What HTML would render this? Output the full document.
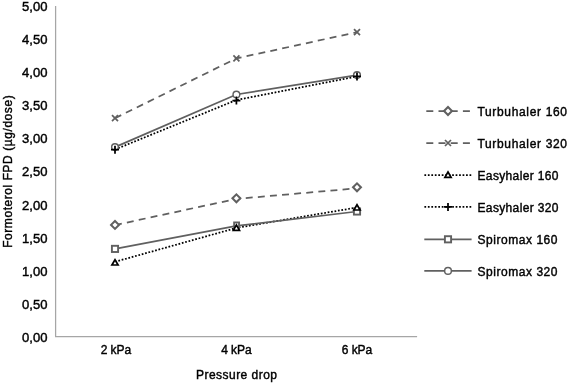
<!DOCTYPE html>
<html><head><meta charset="utf-8"><style>
html,body{margin:0;padding:0;background:#fff;overflow:hidden;}
svg{display:block;}
</style></head><body>
<svg width="569" height="383" viewBox="0 0 569 383">
<rect width="569" height="383" fill="#fff"/>
<path d="M55.6 6V336.6H417.1" fill="none" stroke="#a6a6a6" stroke-width="1.25"/>
<text x="47.5" y="341.75" text-anchor="end" font-family="'Liberation Sans', Arial, sans-serif" stroke="#000" stroke-width="0.4" font-size="12.4" fill="#000" textLength="25.4" lengthAdjust="spacingAndGlyphs">0,00</text>
<text x="47.5" y="308.69" text-anchor="end" font-family="'Liberation Sans', Arial, sans-serif" stroke="#000" stroke-width="0.4" font-size="12.4" fill="#000" textLength="25.4" lengthAdjust="spacingAndGlyphs">0,50</text>
<text x="47.5" y="275.63" text-anchor="end" font-family="'Liberation Sans', Arial, sans-serif" stroke="#000" stroke-width="0.4" font-size="12.4" fill="#000" textLength="25.4" lengthAdjust="spacingAndGlyphs">1,00</text>
<text x="47.5" y="242.57" text-anchor="end" font-family="'Liberation Sans', Arial, sans-serif" stroke="#000" stroke-width="0.4" font-size="12.4" fill="#000" textLength="25.4" lengthAdjust="spacingAndGlyphs">1,50</text>
<text x="47.5" y="209.51" text-anchor="end" font-family="'Liberation Sans', Arial, sans-serif" stroke="#000" stroke-width="0.4" font-size="12.4" fill="#000" textLength="25.4" lengthAdjust="spacingAndGlyphs">2,00</text>
<text x="47.5" y="176.45" text-anchor="end" font-family="'Liberation Sans', Arial, sans-serif" stroke="#000" stroke-width="0.4" font-size="12.4" fill="#000" textLength="25.4" lengthAdjust="spacingAndGlyphs">2,50</text>
<text x="47.5" y="143.39" text-anchor="end" font-family="'Liberation Sans', Arial, sans-serif" stroke="#000" stroke-width="0.4" font-size="12.4" fill="#000" textLength="25.4" lengthAdjust="spacingAndGlyphs">3,00</text>
<text x="47.5" y="110.33" text-anchor="end" font-family="'Liberation Sans', Arial, sans-serif" stroke="#000" stroke-width="0.4" font-size="12.4" fill="#000" textLength="25.4" lengthAdjust="spacingAndGlyphs">3,50</text>
<text x="47.5" y="77.27" text-anchor="end" font-family="'Liberation Sans', Arial, sans-serif" stroke="#000" stroke-width="0.4" font-size="12.4" fill="#000" textLength="25.4" lengthAdjust="spacingAndGlyphs">4,00</text>
<text x="47.5" y="44.21" text-anchor="end" font-family="'Liberation Sans', Arial, sans-serif" stroke="#000" stroke-width="0.4" font-size="12.4" fill="#000" textLength="25.4" lengthAdjust="spacingAndGlyphs">4,50</text>
<text x="47.5" y="11.15" text-anchor="end" font-family="'Liberation Sans', Arial, sans-serif" stroke="#000" stroke-width="0.4" font-size="12.4" fill="#000" textLength="25.4" lengthAdjust="spacingAndGlyphs">5,00</text>
<text x="115.90" y="354.3" text-anchor="middle" font-family="'Liberation Sans', Arial, sans-serif" stroke="#000" stroke-width="0.4" font-size="12" fill="#000" textLength="30.5" lengthAdjust="spacing">2 kPa</text>
<text x="236.40" y="354.3" text-anchor="middle" font-family="'Liberation Sans', Arial, sans-serif" stroke="#000" stroke-width="0.4" font-size="12" fill="#000" textLength="30.5" lengthAdjust="spacing">4 kPa</text>
<text x="357.00" y="354.3" text-anchor="middle" font-family="'Liberation Sans', Arial, sans-serif" stroke="#000" stroke-width="0.4" font-size="12" fill="#000" textLength="30.5" lengthAdjust="spacing">6 kPa</text>
<text x="236.5" y="378.5" text-anchor="middle" font-family="'Liberation Sans', Arial, sans-serif" stroke="#000" stroke-width="0.4" font-size="12" fill="#000" textLength="81" lengthAdjust="spacing">Pressure drop</text>
<text transform="translate(11.8 171.6) rotate(-90)" x="0" y="0" text-anchor="middle" font-family="'Liberation Sans', Arial, sans-serif" stroke="#000" stroke-width="0.4" font-size="12" fill="#000" textLength="152.5" lengthAdjust="spacing">Formoterol FPD (µg/dose)</text>
<polyline points="115.00,225.10 236.40,198.90 357.00,188.30" fill="none" stroke="#606060" stroke-width="1.75" stroke-dasharray="6.94 5.205"/>
<polyline points="115.00,118.20 236.40,58.40 357.00,32.20" fill="none" stroke="#606060" stroke-width="1.75" stroke-dasharray="6.94 5.205"/>
<polyline points="115.00,261.80 236.40,227.90 357.00,207.50" fill="none" stroke="#000" stroke-width="1.75" stroke-dasharray="1.735 1.735"/>
<polyline points="115.00,149.50 236.40,100.00 357.00,76.40" fill="none" stroke="#000" stroke-width="1.75" stroke-dasharray="1.735 1.735"/>
<polyline points="115.00,248.90 236.40,225.90 357.00,211.50" fill="none" stroke="#606060" stroke-width="1.75"/>
<polyline points="115.00,147.10 236.40,94.50 357.00,75.10" fill="none" stroke="#606060" stroke-width="1.75"/>
<path d="M111.05 224.90L115.00 220.95L118.95 224.90L115.00 228.85Z" fill="#fff" stroke="#606060" stroke-width="2.05"/>
<path d="M232.45 198.30L236.40 194.35L240.35 198.30L236.40 202.25Z" fill="#fff" stroke="#606060" stroke-width="2.05"/>
<path d="M353.05 187.30L357.00 183.35L360.95 187.30L357.00 191.25Z" fill="#fff" stroke="#606060" stroke-width="2.05"/>
<path d="M112.00 115.20L118.00 121.20M118.00 115.20L112.00 121.20" fill="none" stroke="#606060" stroke-width="1.75"/>
<path d="M233.40 55.40L239.40 61.40M239.40 55.40L233.40 61.40" fill="none" stroke="#606060" stroke-width="1.75"/>
<path d="M354.00 29.20L360.00 35.20M360.00 29.20L354.00 35.20" fill="none" stroke="#606060" stroke-width="1.75"/>
<rect x="111.90" y="245.80" width="6.20" height="6.20" fill="#fff" stroke="#606060" stroke-width="1.9"/>
<rect x="234.15" y="222.45" width="4.9" height="6.2" fill="#fff" stroke="#606060" stroke-width="1.9"/>
<rect x="353.90" y="208.40" width="6.20" height="6.20" fill="#fff" stroke="#606060" stroke-width="1.9"/>
<circle cx="115.00" cy="147.10" r="3.35" fill="#fff" stroke="#606060" stroke-width="1.45"/>
<circle cx="236.40" cy="94.50" r="3.35" fill="#fff" stroke="#606060" stroke-width="1.45"/>
<circle cx="357.00" cy="75.10" r="3.35" fill="#fff" stroke="#606060" stroke-width="1.45"/>
<path d="M115.00 259.70L118.10 265.00L111.90 265.00Z" fill="#fff" stroke="#000" stroke-width="1.7" stroke-linejoin="miter"/>
<path d="M236.40 225.00L239.50 230.30L233.30 230.30Z" fill="#fff" stroke="#000" stroke-width="1.7" stroke-linejoin="miter"/>
<path d="M357.00 204.70L360.10 210.00L353.90 210.00Z" fill="#fff" stroke="#000" stroke-width="1.7" stroke-linejoin="miter"/>
<path d="M111.00 149.70H119.00M115.00 145.70V153.70" fill="none" stroke="#000" stroke-width="1.75"/>
<path d="M232.40 100.60H240.40M236.40 96.60V104.60" fill="none" stroke="#000" stroke-width="1.75"/>
<path d="M353.00 76.40H361.00M357.00 72.40V80.40" fill="none" stroke="#000" stroke-width="1.75"/>
<path d="M426.3 111.00H469.9" fill="none" stroke="#606060" stroke-width="1.75" stroke-dasharray="7 5.2"/>
<path d="M444.05 111.00L448.00 107.05L451.95 111.00L448.00 114.95Z" fill="#fff" stroke="#606060" stroke-width="2.05"/>
<text x="477.5" y="116.00" font-family="'Liberation Sans', Arial, sans-serif" stroke="#000" stroke-width="0.4" font-size="12" fill="#000" textLength="89.5" lengthAdjust="spacing">Turbuhaler 160</text>
<path d="M426.3 143.00H469.9" fill="none" stroke="#606060" stroke-width="1.75" stroke-dasharray="7 5.2"/>
<path d="M445.00 140.00L451.00 146.00M451.00 140.00L445.00 146.00" fill="none" stroke="#606060" stroke-width="1.75"/>
<text x="477.5" y="148.00" font-family="'Liberation Sans', Arial, sans-serif" stroke="#000" stroke-width="0.4" font-size="12" fill="#000" textLength="89.5" lengthAdjust="spacing">Turbuhaler 320</text>
<path d="M424.4 175.10H471.6" fill="none" stroke="#000" stroke-width="1.75" stroke-dasharray="1.735 1.735"/>
<path d="M448.00 172.00L451.10 177.30L444.90 177.30Z" fill="#fff" stroke="#000" stroke-width="1.7" stroke-linejoin="miter"/>
<text x="477.5" y="180.10" font-family="'Liberation Sans', Arial, sans-serif" stroke="#000" stroke-width="0.4" font-size="12" fill="#000" textLength="81.0" lengthAdjust="spacing">Easyhaler 160</text>
<path d="M424.4 206.90H471.6" fill="none" stroke="#000" stroke-width="1.75" stroke-dasharray="1.735 1.735"/>
<path d="M444.00 206.90H452.00M448.00 202.90V210.90" fill="none" stroke="#000" stroke-width="1.75"/>
<text x="477.5" y="211.90" font-family="'Liberation Sans', Arial, sans-serif" stroke="#000" stroke-width="0.4" font-size="12" fill="#000" textLength="81.0" lengthAdjust="spacing">Easyhaler 320</text>
<path d="M424.3 239.30H471.6" fill="none" stroke="#606060" stroke-width="1.75"/>
<rect x="444.90" y="236.20" width="6.20" height="6.20" fill="#fff" stroke="#606060" stroke-width="1.9"/>
<text x="477.5" y="244.30" font-family="'Liberation Sans', Arial, sans-serif" stroke="#000" stroke-width="0.4" font-size="12" fill="#000" textLength="80.0" lengthAdjust="spacing">Spiromax 160</text>
<path d="M424.3 270.90H471.6" fill="none" stroke="#606060" stroke-width="1.75"/>
<circle cx="448.00" cy="270.90" r="3.35" fill="#fff" stroke="#606060" stroke-width="1.45"/>
<text x="477.5" y="275.90" font-family="'Liberation Sans', Arial, sans-serif" stroke="#000" stroke-width="0.4" font-size="12" fill="#000" textLength="80.0" lengthAdjust="spacing">Spiromax 320</text>
</svg>
</body></html>
